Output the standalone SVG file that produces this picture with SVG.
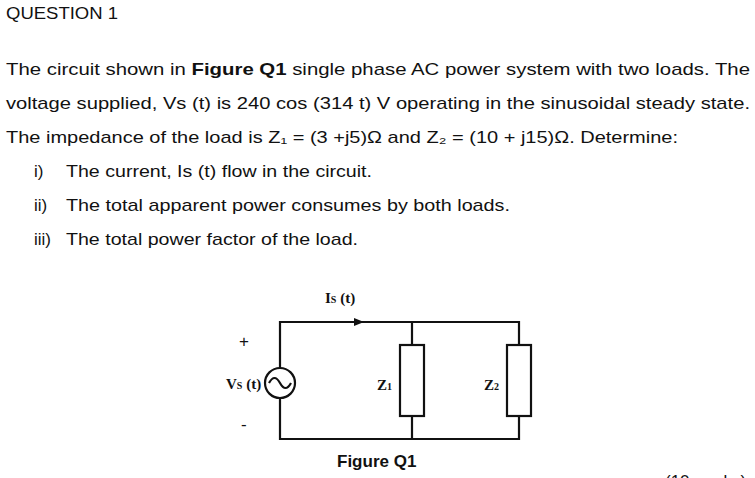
<svg xmlns="http://www.w3.org/2000/svg" width="755" height="478" viewBox="0 0 755 478">
<style>
.t{font-family:"Liberation Sans",Arial,sans-serif;font-size:17px;fill:#111}
.s{font-family:"Liberation Serif","Times New Roman",serif;font-weight:bold;fill:#111}
.w{stroke:#111;stroke-width:2.2;fill:none}
</style>
<defs><marker id="a" markerWidth="10" markerHeight="8" refX="9" refY="4" orient="auto" markerUnits="userSpaceOnUse"><path d="M0,0L10,4L0,8z" fill="#111"/></marker></defs>
<rect width="755" height="478" fill="#fff"/>
<text class="t" x="6" y="19" font-size="15" textLength="112" lengthAdjust="spacingAndGlyphs">QUESTION 1</text>
<text class="t" x="6" y="75" textLength="744" lengthAdjust="spacingAndGlyphs">The circuit shown in <tspan font-weight="bold">Figure Q1</tspan> single phase AC power system with two loads. The</text>
<text class="t" x="6" y="109" textLength="744" lengthAdjust="spacingAndGlyphs">voltage supplied, Vs (t) is 240 cos (314 t) V operating in the sinusoidal steady state.</text>
<text class="t" x="6" y="143" textLength="672" lengthAdjust="spacingAndGlyphs">The impedance of the load is Z₁ = (3 +j5)Ω and Z₂ = (10 + j15)Ω. Determine:</text>
<text class="t" x="34" y="177">i)</text><text class="t" x="66" y="177" textLength="306" lengthAdjust="spacingAndGlyphs">The current, Is (t) flow in the circuit.</text>
<text class="t" x="34" y="211">ii)</text><text class="t" x="66" y="211" textLength="444" lengthAdjust="spacingAndGlyphs">The total apparent power consumes by both loads.</text>
<text class="t" x="34" y="245">iii)</text><text class="t" x="66" y="245" textLength="292" lengthAdjust="spacingAndGlyphs">The total power factor of the load.</text>
<g id="connectors">
<path class="w" d="M280,368V322H519V345M412,322V345M280,398V439H519V416M412,416V439"/>
<path class="w" d="M317,322H363" marker-end="url(#a)"/>
</g>
<g id="source"><circle class="w" cx="280" cy="383" r="15"/><path class="w" d="M269,383q5.5,-10 11,0t11,0"/></g>
<g id="z1"><rect class="w" x="400" y="345" width="24" height="71" fill="#fff"/></g>
<g id="z2"><rect class="w" x="507" y="345" width="24" height="71" fill="#fff"/></g>
<text class="s" x="325" y="303" font-size="15">I<tspan font-size="10">S</tspan> (t)</text>
<text class="s" x="226" y="389" font-size="15">V<tspan font-size="10">S</tspan> (t)</text>
<text class="s" x="377" y="390" font-size="15">Z<tspan font-size="10">1</tspan></text>
<text class="s" x="484" y="390" font-size="15">Z<tspan font-size="10">2</tspan></text>
<text class="t" x="239" y="347" font-size="15">+</text>
<text class="t" x="241" y="430" font-size="15">-</text>
<text class="t" x="337" y="467" font-size="16" font-weight="bold">Figure Q1</text>
<text class="t" x="665" y="487" font-size="16">(10 marks)</text>
</svg>
